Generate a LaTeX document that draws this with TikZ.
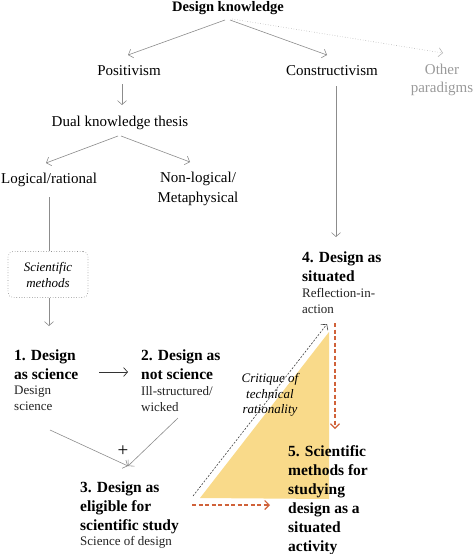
\documentclass[tikz,border=0pt]{standalone}
\usepackage{fontspec}
\setmainfont{Liberation Serif}
\usetikzlibrary{arrows.meta}
\definecolor{linegray}{HTML}{8C8C8C}
\definecolor{othergray}{HTML}{9A9A9A}
\definecolor{dotgray}{HTML}{B4B4B4}
\definecolor{rust}{HTML}{D0623A}
\definecolor{sand}{HTML}{F9DA8A}
\definecolor{subtext}{HTML}{222222}
\begin{document}
\begin{tikzpicture}[x=1pt,y=-1pt,
  lbl/.style={inner sep=0, anchor=base, font=\fontsize{15}{19}\selectfont},
  head/.style={inner sep=0, anchor=north west, align=left, font=\bfseries\fontsize{15.5}{19}\selectfont},
  subl/.style={inner sep=0, anchor=north west, align=left, text=subtext, font=\fontsize{13}{16}\selectfont},
  tip/.style={-{Straight Barb[length=4pt,width=9pt]}},
  garr/.style={draw=linegray, line width=0.6pt, tip},
  gline/.style={draw=linegray, line width=0.6pt},
  darr/.style={draw=black!80, line width=0.7pt, tip},
  oarr/.style={draw=rust, line width=1.1pt, dash pattern=on 4pt off 2.5pt, -{Straight Barb[length=4.5pt,width=9pt]}},
  karr/.style={draw=black!75, line width=0.6pt, dash pattern=on 2pt off 1.5pt, tip}]
\useasboundingbox (0,0) rectangle (474,554);

% triangle background
\fill[sand] (200,498) -- (329,332) -- (329,499) -- cycle;

% top level
\node[lbl, font=\bfseries\fontsize{14.5}{18}\selectfont] (dk) at (228,12) {Design knowledge};
\node[lbl] (pos) at (129,75) {Positivism};
\node[lbl] (con) at (332,75) {Constructivism};
\node[inner sep=0, anchor=north, align=center, text=othergray, font=\fontsize{15}{18}\selectfont] (oth) at (442,64) {Other\\paradigms};
\node[lbl] (dual) at (120,126) {Dual knowledge thesis};
\node[lbl] (log) at (49,183) {Logical/rational};
\node[inner sep=0, anchor=north, align=center, font=\fontsize{15}{20}\selectfont] (nonl) at (198,172) {Non-logical/\\Metaphysical};
\node[draw=linegray, dotted, line width=0.6pt, rounded corners=5pt, minimum width=80pt, minimum height=46pt, align=center, inner sep=0, font=\itshape\fontsize{13}{16}\selectfont] (sm) at (48,274.5) {Scientific\\methods};

% numbered blocks
\node[head] (h1) at (14,350) {1. Design\\as science};
\node[subl] (s1) at (14,386) {Design\\science};
\node[head] (h2) at (141,350) {2. Design as\\not science};
\node[subl] (s2) at (141,386) {Ill-structured/\\wicked};
\node[head] (h3) at (80,482) {3. Design as\\eligible for\\scientific study};
\node[subl] (s3) at (80,536) {Science of design};
\node[head] (h4) at (302,252) {4. Design as\\situated};
\node[subl] (s4) at (302,288) {Reflection-in-\\action};
\node[head] (h5) at (288,445) {5. Scientific\\methods for\\studying\\design as a\\situated\\activity};
\node[inner sep=0, font=\fontsize{19}{20}\selectfont] (plus) at (123,451) {+};
\node[inner sep=0, align=center, font=\itshape\fontsize{13}{15.5}\selectfont] (crit) at (270,395) {Critique of\\technical\\rationality};

% connectors
\draw[garr] ([shift={(-3,8)}]dk.base) -- ([shift={(-1,-20)}]pos.base);
\draw[garr] ([shift={(2,8)}]dk.base) -- ([shift={(-5,-20)}]con.base);
\draw[draw=dotgray, dotted, line width=0.6pt, tip] ([shift={(4,7)}]dk.base) -- ([shift={(1,-11)}]oth.north);
\draw[garr] ([shift={(-7,9)}]pos.base) -- ([shift={(2,-21)}]dual.base);
\draw[garr] ([shift={(-2,10)}]dual.base) -- ([shift={(-3,-20)}]log.base);
\draw[garr] ([shift={(1,10)}]dual.base) -- ([shift={(-8,-10)}]nonl.north);
\draw[gline] ([shift={(0,14)}]log.base) -- ([xshift=1pt]sm.north);
\draw[garr] ([xshift=1pt]sm.south) -- ([shift={(35,-24)}]h1.north west);
\draw[darr] ([shift={(85,22)}]h1.north west) -- ([shift={(-13,22)}]h2.north west);
\draw[garr] ([shift={(36,44)}]s1.north west) -- ([shift={(48,-16)}]h3.north west);
\draw[garr] ([shift={(37,32)}]s2.north west) -- ([shift={(48,-16)}]h3.north west);
\draw[garr] ([shift={(4,11)}]con.base) -- ([shift={(34,-15)}]h4.north west);

\coordinate (kstart) at (193,496);
\coordinate (kend) at (327,324);
\draw[karr] (kstart) -- (kend);
\draw[oarr] ([shift={(33,35)}]s4.north west) -- ([shift={(47,-16)}]h5.north west);
\draw[oarr] ([shift={(112,23)}]h3.north west) -- ([shift={(-18,60)}]h5.north west);
\end{tikzpicture}
\end{document}
